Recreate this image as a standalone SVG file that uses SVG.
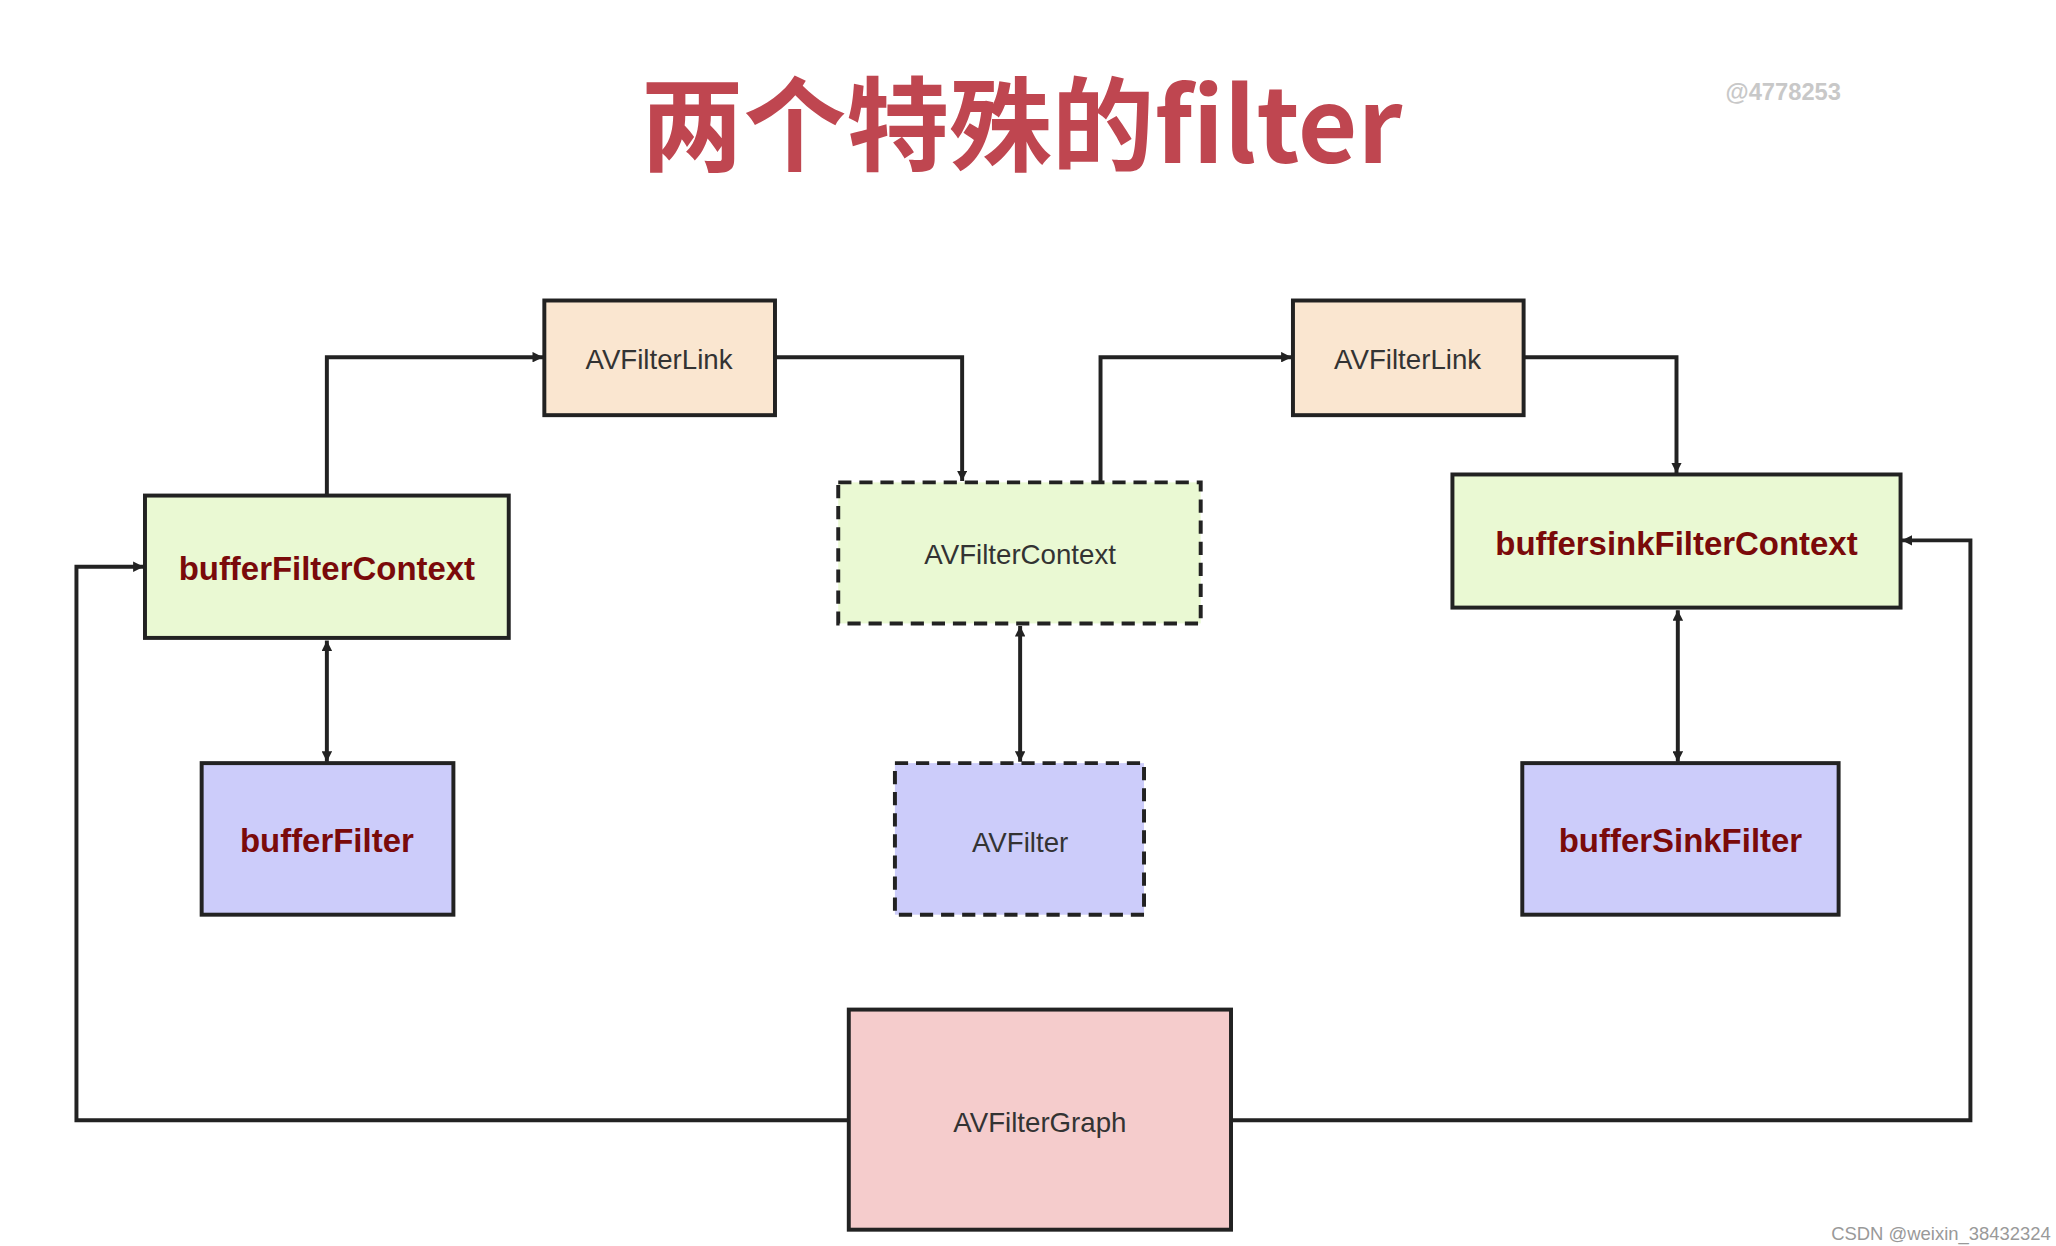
<svg xmlns="http://www.w3.org/2000/svg" width="2056" height="1246" viewBox="0 0 2056 1246">
<defs>
<marker id="ah" viewBox="0 0 10 10" refX="10" refY="5" markerWidth="8" markerHeight="8" markerUnits="userSpaceOnUse" orient="auto-start-reverse"><path d="M0,0 L10,5 L0,10 z" fill="#222"/></marker>
<style>
.b{stroke:#222;stroke-width:3}
.d{stroke-dasharray:10 6}
.t{font-family:"Liberation Sans",Arial,sans-serif;font-size:21px;fill:#333;text-anchor:middle;dominant-baseline:central}
.r{font-family:"Liberation Sans",Arial,sans-serif;font-size:25px;font-weight:bold;fill:#7a0a0a;text-anchor:middle;dominant-baseline:central}
.c{fill:none;stroke:#222;stroke-width:3;marker-end:url(#ah)}
</style>
</defs>
<rect width="2056" height="1246" fill="#fff"/>
<g transform="scale(1.318)">
<text x="775" y="124" font-family="'Noto Sans CJK SC','Liberation Sans',sans-serif" font-size="78" font-weight="bold" fill="#bf4650" text-anchor="middle">两个特殊的filter</text>
<text x="1353" y="76" font-family="'Liberation Sans',Arial,sans-serif" font-size="18" font-weight="bold" fill="#c8c8c8" text-anchor="middle">@4778253</text>
<g id="link1"><rect class="b" x="413" y="228" width="175" height="87" fill="#fae6d0"/><text class="t" x="500" y="273">AVFilterLink</text></g>
<g id="link2"><rect class="b" x="981" y="228" width="175" height="87" fill="#fae6d0"/><text class="t" x="1068" y="273">AVFilterLink</text></g>
<g id="bufferFilterContext"><rect class="b" x="110" y="376" width="276" height="108" fill="#eaf9d3"/><text class="r" x="248" y="431">bufferFilterContext</text></g>
<g id="AVFilterContext"><rect class="b d" x="636" y="366" width="275" height="107" fill="#eaf9d3"/><text class="t" x="774" y="421">AVFilterContext</text></g>
<g id="buffersinkFilterContext"><rect class="b" x="1102" y="360" width="340" height="101" fill="#eaf9d3"/><text class="r" x="1272" y="412">buffersinkFilterContext</text></g>
<g id="bufferFilter"><rect class="b" x="153" y="579" width="191" height="115" fill="#ccccfa"/><text class="r" x="248" y="638">bufferFilter</text></g>
<g id="AVFilter"><rect class="b d" x="679" y="579" width="189" height="115" fill="#ccccfa"/><text class="t" x="774" y="639">AVFilter</text></g>
<g id="bufferSinkFilter"><rect class="b" x="1155" y="579" width="240" height="115" fill="#ccccfa"/><text class="r" x="1275" y="638">bufferSinkFilter</text></g>
<g id="AVFilterGraph"><rect class="b" x="644" y="766" width="290" height="167" fill="#f5cccc"/><text class="t" x="789" y="852">AVFilterGraph</text></g>
<g id="connectors">
<path class="c" d="M248,376 V271 H412"/>
<path class="c" d="M588,271 H730 V365"/>
<path class="c" d="M835,366 V271 H980"/>
<path class="c" d="M1156,271 H1272 V359"/>
<path class="c" d="M248,486 V578" style="marker-start:url(#ah)"/>
<path class="c" d="M774,475 V578" style="marker-start:url(#ah)"/>
<path class="c" d="M1273,463 V578" style="marker-start:url(#ah)"/>
<path class="c" d="M644,850 H58 V430 H109"/>
<path class="c" d="M934,850 H1495 V410 H1443"/>
</g>
<text x="1556" y="941" font-family="'Liberation Sans',Arial,sans-serif" font-size="14" fill="#999" text-anchor="end">CSDN @weixin_38432324</text>
</g>
</svg>
